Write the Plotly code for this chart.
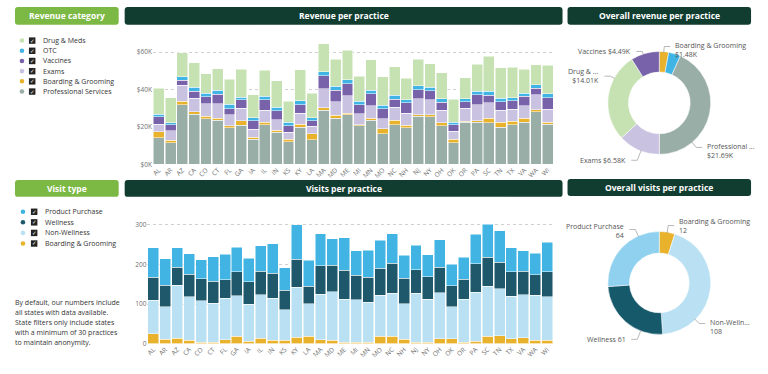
import math
import plotly.graph_objects as go

W, H = 768, 374

# ---------------- data ----------------
states = ["AL", "AR", "AZ", "CA", "CO", "CT", "FL", "GA", "IA", "IL", "IN", "KS", "KY", "LA", "MA", "MD",
          "ME", "MI", "MN", "MO", "NC", "NH", "NJ", "NY", "OH", "OK", "OR", "PA", "SC", "TN", "TX", "VA", "WA", "WI"]

# revenue per practice, $K
rev_prof = [14.1, 11.5, 31.9, 26.8, 24.4, 23.6, 19.4, 20.8, 13.4, 21.2, 17.1, 12.0, 19.8, 13.2, 28.9, 24.7,
            26.5, 20.5, 23.6, 16.4, 21.0, 19.6, 25.8, 25.4, 20.5, 11.6, 22.4, 22.4, 22.2, 19.8, 21.2, 22.6, 28.1, 21.5]
rev_board = [3.2, 1.4, 1.8, 1.4, 1.2, 1.1, 1.2, 2.5, 1.1, 1.4, 1.1, 1.4, 1.6, 3.0, 1.4, 1.4,
             0.7, 0.7, 0.9, 2.6, 2.6, 1.2, 0.7, 1.1, 1.6, 1.8, 0.7, 0.9, 2.5, 2.6, 1.8, 2.1, 1.1, 1.1]
rev_exams = [4.1, 4.9, 8.5, 7.1, 6.7, 7.8, 5.8, 6.7, 4.2, 6.2, 5.6, 3.7, 6.0, 4.2, 10.1, 7.4,
             9.5, 5.8, 6.9, 5.3, 6.9, 6.5, 8.5, 7.9, 6.7, 4.2, 6.9, 8.5, 8.1, 6.4, 6.5, 6.7, 7.9, 6.7]
rev_vacc = [3.9, 3.4, 2.8, 3.9, 3.7, 4.9, 3.2, 4.4, 4.6, 5.6, 4.9, 3.5, 4.4, 2.8, 6.9, 6.2,
            6.4, 4.8, 6.2, 5.3, 4.4, 5.5, 4.8, 4.9, 4.4, 3.5, 3.5, 5.3, 4.2, 4.6, 4.4, 4.9, 3.7, 6.2]
rev_otc = [1.4, 1.1, 1.9, 1.9, 2.1, 2.1, 2.6, 1.4, 1.6, 1.9, 1.9, 1.9, 2.3, 1.6, 2.3, 2.1,
           2.1, 1.8, 2.1, 2.1, 1.9, 1.8, 2.1, 1.8, 1.8, 1.4, 1.6, 2.1, 2.1, 1.8, 1.8, 1.8, 1.8, 2.1]
rev_drug = [13.9, 13.2, 12.7, 13.2, 10.4, 11.6, 13.2, 15.0, 12.2, 14.1, 14.1, 11.1, 16.4, 13.1, 14.8, 14.3,
            15.7, 13.4, 16.1, 15.2, 15.4, 11.3, 14.3, 12.7, 14.1, 12.4, 11.3, 14.3, 18.7, 16.4, 16.1, 12.7, 10.6, 15.4]

# visits per practice
vis_board = [25, 11, 13, 8, 4, 4, 10, 19, 6, 13, 9, 8, 16, 19, 10, 9,
             4, 4, 4, 18, 18, 11, 4, 4, 12, 12, 4, 6, 18, 20, 12, 15, 8, 8]
vis_nonw = [85, 82, 134, 110, 104, 98, 104, 102, 93, 110, 105, 78, 126, 82, 115, 122,
            108, 107, 101, 104, 109, 90, 123, 108, 116, 81, 108, 124, 127, 118, 108, 108, 114, 110]
vis_well = [58, 55, 46, 57, 56, 56, 47, 60, 57, 60, 64, 49, 71, 44, 72, 67,
            73, 62, 63, 68, 76, 64, 59, 57, 65, 53, 51, 72, 73, 68, 61, 60, 52, 64]
vis_prod = [74, 66, 49, 52, 48, 61, 65, 62, 60, 64, 74, 57, 87, 66, 80, 67,
            82, 62, 68, 71, 75, 58, 63, 56, 69, 54, 55, 74, 84, 79, 61, 52, 54, 74]

rev_ticks = [0, 20, 40, 60]
rev_ticktext = ["$0K", "$20K", "$40K", "$60K"]
vis_ticks = [0, 100, 200, 300]

rev_pie_labels = ["Boarding & Grooming", "OTC", "Professional Services", "Exams", "Drug & Meds", "Vaccines"]
rev_pie_values = [1.48, 1.9, 21.69, 6.58, 14.01, 4.49]
rev_pie_text = ["Boarding & Grooming<br>$1.48K", None, "Professional ...<br>$21.69K", "Exams $6.58K",
                "Drug & ...<br>$14.01K", "Vaccines $4.49K"]

vis_pie_labels = ["Boarding & Grooming", "Non-Wellness", "Wellness", "Product Purchase"]
vis_pie_values = [12, 108, 61, 64]
vis_pie_text = ["Boarding & Grooming<br>12", "Non-Welln...<br>108", "Wellness 61", "Product Purchase<br>64"]

# ---------------- styles ----------------
C_PROF, C_BOARD, C_EXAMS, C_VACC, C_OTC, C_DRUG = "#9aaea8", "#e9b22d", "#c9c2e1", "#7862a9", "#40b5e5", "#c6e2b3"
C_PROD, C_WELL, C_NONW = "#41b4e3", "#1f586b", "#b9e1f3"
C_PROD_PIE, C_WELL_PIE = "#8fd1ee", "#15596b"
LIGHT_HDR, DARK_HDR = "#7cb944", "#113d30"
FONT = "Open Sans"
TXT = "#333333"
TICK = "#707070"


def px(x):
    return x / W


def py(y):
    return 1 - y / H


fig = go.Figure()

bar_line = dict(color="white", width=0.5)
for name, vals, col in [("Professional Services", rev_prof, C_PROF), ("Boarding & Grooming", rev_board, C_BOARD),
                        ("Exams", rev_exams, C_EXAMS), ("Vaccines", rev_vacc, C_VACC),
                        ("OTC", rev_otc, C_OTC), ("Drug & Meds", rev_drug, C_DRUG)]:
    fig.add_trace(go.Bar(x=states, y=vals, name=name, marker=dict(color=col, line=bar_line),
                         xaxis="x", yaxis="y", showlegend=False))

for name, vals, col in [("Boarding & Grooming", vis_board, C_BOARD), ("Non-Wellness", vis_nonw, C_NONW),
                        ("Wellness", vis_well, C_WELL), ("Product Purchase", vis_prod, C_PROD)]:
    fig.add_trace(go.Bar(x=states, y=vals, name=name, marker=dict(color=col, line=bar_line),
                         xaxis="x2", yaxis="y2", showlegend=False))

# donuts
REV_C, VIS_C, R = (659, 104), (659, 286), 52
fig.add_trace(go.Pie(labels=rev_pie_labels, values=rev_pie_values, hole=0.6, sort=False, direction="clockwise",
                     rotation=0, textinfo="none", showlegend=False,
                     marker=dict(colors=[C_BOARD, C_OTC, C_PROF, C_EXAMS, C_DRUG, C_VACC],
                                 line=dict(color="white", width=0.5)),
                     domain=dict(x=[px(REV_C[0] - R), px(REV_C[0] + R)], y=[py(REV_C[1] + R), py(REV_C[1] - R)])))
fig.add_trace(go.Pie(labels=vis_pie_labels, values=vis_pie_values, hole=0.58, sort=False, direction="clockwise",
                     rotation=0, textinfo="none", showlegend=False,
                     marker=dict(colors=[C_BOARD, C_NONW, C_WELL_PIE, C_PROD_PIE],
                                 line=dict(color="white", width=0.5)),
                     domain=dict(x=[px(VIS_C[0] - R), px(VIS_C[0] + R)], y=[py(VIS_C[1] + R), py(VIS_C[1] - R)])))

axis_common = dict(showline=False, zeroline=False, ticks="", tickfont=dict(family=FONT, size=6.5, color=TICK))
fig.update_layout(
    width=W, height=H, margin=dict(l=0, r=0, t=0, b=0),
    paper_bgcolor="white", plot_bgcolor="white", barmode="stack", bargap=0.08,
    font=dict(family=FONT, color=TXT),
    xaxis=dict(domain=[px(151.3), px(553.2)], anchor="y", tickangle=-45, showgrid=False, **axis_common),
    yaxis=dict(domain=[py(166), py(39.5)], anchor="x", range=[0, 67], tickvals=rev_ticks, ticktext=rev_ticktext,
               showgrid=True, gridcolor="#d0d0d0", griddash="dot", gridwidth=1, **axis_common),
    xaxis2=dict(domain=[px(145.8), px(552.7)], anchor="y2", tickangle=-45, showgrid=False, **axis_common),
    yaxis2=dict(domain=[py(347.3), py(222.5)], anchor="x2", range=[0, 312], tickvals=vis_ticks,
                showgrid=True, gridcolor="#d0d0d0", griddash="dot", gridwidth=1, **axis_common),
)

shapes, annots = [], []


def rounded_box(x0, y0, x1, y1, color, rad=3):
    rx, ry = rad / W, rad / H
    X0, X1, Y0, Y1 = px(x0), px(x1), py(y1), py(y0)
    path = (f"M{X0 + rx},{Y0} L{X1 - rx},{Y0} Q{X1},{Y0} {X1},{Y0 + ry} L{X1},{Y1 - ry} Q{X1},{Y1} {X1 - rx},{Y1} "
            f"L{X0 + rx},{Y1} Q{X0},{Y1} {X0},{Y1 - ry} L{X0},{Y0 + ry} Q{X0},{Y0} {X0 + rx},{Y0} Z")
    shapes.append(dict(type="path", path=path, xref="paper", yref="paper", fillcolor=color, line=dict(width=0),
                       layer="below"))


headers = [((13, 7, 117, 25), "Revenue category", LIGHT_HDR), ((123, 7, 562, 25), "Revenue per practice", DARK_HDR),
           ((567, 7, 751, 25), "Overall revenue per practice", DARK_HDR),
           ((13, 182, 117, 199), "Visit type", LIGHT_HDR), ((123, 182, 562, 199), "Visits per practice", DARK_HDR),
           ((567, 181, 751, 198), "Overall visits per practice", DARK_HDR)]
for (x0, y0, x1, y1), title, col in headers:
    rounded_box(x0, y0, x1, y1, col)
    annots.append(dict(x=px((x0 + x1) / 2), y=py((y0 + y1) / 2), xref="paper", yref="paper", text=f"<b>{title}</b>",
                       showarrow=False, xanchor="center", yanchor="middle",
                       font=dict(family=FONT, size=8.5, color="white")))


def legend(items, x_dot, x_box, x_txt, y0, dy):
    for i, (label, col) in enumerate(items):
        y = y0 + dy * i
        shapes.append(dict(type="circle", xref="paper", yref="paper", x0=px(x_dot - 2.3), x1=px(x_dot + 2.3),
                           y0=py(y + 2.3), y1=py(y - 2.3), fillcolor=col, line=dict(width=0)))
        shapes.append(dict(type="rect", xref="paper", yref="paper", x0=px(x_box), x1=px(x_box + 6.5),
                           y0=py(y + 3.3), y1=py(y - 3.2), fillcolor="#252423", line=dict(width=0)))
        annots.append(dict(x=px(x_box + 3.3), y=py(y), xref="paper", yref="paper", text="✓", showarrow=False,
                           xanchor="center", yanchor="middle", font=dict(family="DejaVu Sans", size=5.5, color="white")))
        annots.append(dict(x=px(x_txt), y=py(y), xref="paper", yref="paper", text=label, showarrow=False,
                           xanchor="left", yanchor="middle", font=dict(family=FONT, size=7, color=TXT)))


legend([("Drug & Meds", C_DRUG), ("OTC", C_OTC), ("Vaccines", C_VACC), ("Exams", C_EXAMS),
        ("Boarding & Grooming", C_BOARD), ("Professional Services", C_PROF)], 20, 27, 39, 41, 10.3)
legend([("Product Purchase", C_PROD), ("Wellness", C_WELL), ("Non-Wellness", C_NONW),
        ("Boarding & Grooming", C_BOARD)], 21, 29, 41, 214, 10.7)

note = ["By default, our numbers include", "all states with data available.", "State filters only include states",
        "with a minimum of 30 practices", "to maintain anonymity."]
for i, line in enumerate(note):
    annots.append(dict(x=px(11), y=py(305.7 + 10 * i), xref="paper", yref="paper", text=line, showarrow=False,
                       xanchor="left", yanchor="middle", font=dict(family=FONT, size=7, color=TXT)))


# donut labels: (anchor x, text centre y, leader y, side)
def donut_labels(center, texts, places):
    cx, cy = center
    for txt, place in zip(texts, places):
        if txt is None or place is None:
            continue
        lx, ly, lline, side = place
        sgn = 1 if side == "right" else -1  # right-anchored text sits left of donut
        start = lx + 3 * sgn
        elbow = start + 6 * sgn
        dx, dy = elbow - cx, lline - cy
        d = math.hypot(dx, dy)
        ex, ey = cx + dx / d * (R - 1), cy + dy / d * (R - 1)
        shapes.append(dict(type="path", xref="paper", yref="paper",
                           path=f"M{px(start)},{py(lline)} L{px(elbow)},{py(lline)} L{px(ex)},{py(ey)}",
                           line=dict(color="#9a9a9a", width=0.7)))
        annots.append(dict(x=px(lx), y=py(ly), xref="paper", yref="paper", text=txt, showarrow=False,
                           xanchor="right" if side == "right" else "left", yanchor="middle",
                           align="right" if side == "right" else "left",
                           font=dict(family=FONT, size=7, color="#555555")))


donut_labels(REV_C, rev_pie_text,
             [(673, 50.5, 47, "left"), None, (705, 152.5, 149, "left"), (628, 162, 162, "right"),
              (601, 77, 77, "right"), (633, 52, 52, "right")])
donut_labels(VIS_C, vis_pie_text,
             [(677, 228.5, 228, "left"), (708, 330.5, 327, "left"), (628, 343, 343, "right"),
              (626, 233, 232, "right")])

fig.update_layout(shapes=shapes, annotations=annots)
fig.write_html("out.html", config={"displayModeBar": False},
               post_script="document.body.style.margin='0px';document.body.style.padding='0px';")
